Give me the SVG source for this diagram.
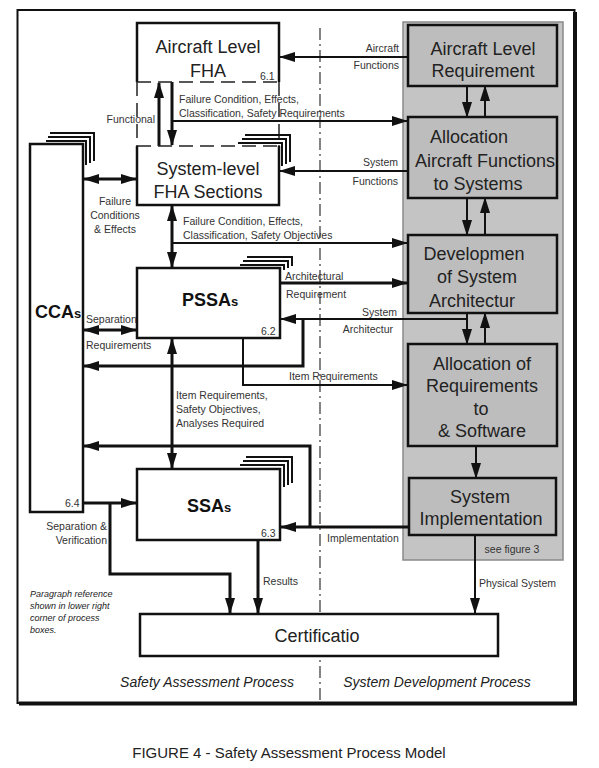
<svg xmlns="http://www.w3.org/2000/svg" width="599" height="768" viewBox="0 0 599 768">
<style>
text{font-family:"Liberation Sans",Arial,sans-serif;fill:#222}
.big{font-size:18px}
.bold{font-size:18px;font-weight:bold;fill:#111}
.lbl{font-size:10.5px;fill:#333}
.num{font-size:10.5px;fill:#333}
.ital{font-style:italic}
.box{fill:#fff;stroke:#111;stroke-width:2.5}
.gbox{fill:#bdbdbd;stroke:#111;stroke-width:2.5}
.stack{fill:none;stroke:#111;stroke-width:2}
.dash{fill:none;stroke:#222;stroke-width:1.5;stroke-dasharray:14 7}
.c{fill:none;stroke:#111}
.w2{stroke-width:2}
.w3{stroke-width:3}
.e{marker-end:url(#ah)}
.s{marker-start:url(#ah)}
</style>
<defs>
<marker id="ah" viewBox="0 0 16 10" refX="15" refY="5" markerWidth="16" markerHeight="10" markerUnits="userSpaceOnUse" orient="auto-start-reverse">
<path d="M0,0 L16,5 L0,10 z" fill="#111"/>
</marker>
</defs>
<rect width="599" height="768" fill="#fff"/>
<!-- frame -->
<g id="frame">
<rect x="17.5" y="10" width="557" height="693" fill="none" stroke="#111" stroke-width="2"/>
<path d="M575,12 V704 M19,703.5 H577" fill="none" stroke="#111" stroke-width="4"/>
</g>
<!-- grey column -->
<rect id="dev-column" x="403" y="22" width="160" height="538" fill="#c4c4c4" stroke="#8a8a8a" stroke-width="1.5"/>
<!-- divider -->
<path id="divider" d="M320,28 V700" fill="none" stroke="#333" stroke-width="1.2" stroke-dasharray="12 4 2 4"/>

<!-- connectors -->
<g id="connectors">
<path class="c w2 e" d="M467,86 V117"/>
<path class="c w2 e" d="M485,117 V86"/>
<path class="c w2 e" d="M467,198 V235"/>
<path class="c w2 e" d="M485,235 V198"/>
<path class="c w2 e" d="M467,313 V344"/>
<path class="c w2 e" d="M485,344 V313"/>
<path class="c w2 e" d="M476,446 V478"/>

<path class="c w2 e" d="M408,57 H280"/>
<path class="c w3 e" d="M159,146 V83"/>
<path class="c w3 e" d="M172,82 V145"/>
<path class="c w2 e" d="M172,121 H407"/>
<path class="c w2 e" d="M408,171 H280"/>
<path class="c w3 e s" d="M84,179 H136"/>
<path class="c w3 e s" d="M172,206 V267"/>
<path class="c w2 e" d="M172,243 H407"/>
<path class="c w3 e" d="M281,283 H407"/>
<path class="c w2 e" d="M467,319 H281"/>
<path class="c w3 e" d="M303,319 V366 H84"/>
<path class="c w3 e s" d="M84,330 H136"/>
<path class="c w2 e" d="M243,338 V385 H407"/>
<path class="c w3 e s" d="M172,339 V468"/>
<path class="c w3 e" d="M409,527 H281"/>
<path class="c w3 e" d="M310,527 V446 H84"/>
<path class="c w3 e" d="M83,503 H136"/>
<path class="c w3 e" d="M110,503 V574 H230 V613"/>
<path class="c w3 e" d="M258,540 V613"/>
<path class="c w2 e" d="M475,535 V613"/>
</g>

<!-- connector labels -->
<g id="labels">
<text class="lbl" x="399" y="52" text-anchor="end">Aircraft</text>
<text class="lbl" x="399" y="69" text-anchor="end">Functions</text>
<text class="lbl" x="155" y="123" text-anchor="end">Functional</text>
<text class="lbl" x="179" y="103">Failure Condition, Effects,</text>
<text class="lbl" x="179" y="117">Classification, Safety Requirements</text>
<text class="lbl" x="398" y="166" text-anchor="end">System</text>
<text class="lbl" x="398" y="185" text-anchor="end">Functions</text>
<text class="lbl" x="115" y="205" text-anchor="middle">Failure</text>
<text class="lbl" x="115" y="219" text-anchor="middle">Conditions</text>
<text class="lbl" x="115" y="233" text-anchor="middle">&amp; Effects</text>
<text class="lbl" x="183" y="225">Failure Condition, Effects,</text>
<text class="lbl" x="183" y="239">Classification, Safety Objectives</text>
<text class="lbl" x="285" y="280">Architectural</text>
<text class="lbl" x="286" y="298">Requirement</text>
<text class="lbl" x="397" y="316" text-anchor="end">System</text>
<text class="lbl" x="393" y="333" text-anchor="end">Architectur</text>
<text class="lbl" x="86" y="323">Separation</text>
<text class="lbl" x="86" y="349">Requirements</text>
<text class="lbl" x="289" y="380">Item Requirements</text>
<text class="lbl" x="176" y="399">Item Requirements,</text>
<text class="lbl" x="176" y="413">Safety Objectives,</text>
<text class="lbl" x="176" y="427">Analyses Required</text>
<text class="lbl" x="327" y="542">Implementation</text>
<text class="lbl" x="107" y="530" text-anchor="end">Separation &amp;</text>
<text class="lbl" x="107" y="544" text-anchor="end">Verification</text>
<text class="lbl" x="263" y="585">Results</text>
<text class="lbl" x="479" y="587">Physical System</text>
<text class="lbl" x="512" y="553" text-anchor="middle">see figure 3</text>
</g>

<!-- left nodes -->
<g id="aircraft-fha">
<rect x="137" y="23" width="142" height="59" fill="#fff" stroke="none"/>
<path d="M137,82 V23 H279 V82" fill="none" stroke="#111" stroke-width="2.5"/>
<path class="dash" d="M137,82 H279 M137,82 V146 M279,82 V146"/>
<text class="big" x="208" y="53" text-anchor="middle">Aircraft Level</text>
<text class="big" x="208" y="77" text-anchor="middle">FHA</text>
<text class="num" x="260" y="80">6.1</text>
</g>
<g id="system-fha">
<path d="M137,146 V205 H279 V146" fill="#fff" stroke="#111" stroke-width="2.5"/>
<path class="dash" d="M137,146 H279"/>
<path class="stack" d="M238,143 H282 V166 M242,139 H286 V164 M245,135 H290 V162"/>
<text class="big" x="208" y="175" text-anchor="middle">System-level</text>
<text class="big" x="208" y="198" text-anchor="middle">FHA Sections</text>
</g>
<g id="pssas">
<rect class="box" x="137" y="268" width="143" height="70"/>
<path class="stack" d="M240,265 H284 V270 M243,261 H288 V268 M247,257 H292 V266"/>
<text class="bold" x="182" y="306">PSSA<tspan font-size="13">s</tspan></text>
<text class="num" x="261" y="335">6.2</text>
</g>
<g id="ssas">
<rect class="box" x="137" y="469" width="143" height="71"/>
<path class="stack" d="M240,465 H284 V487 M243,461 H288 V485 M246,457 H292 V483"/>
<text class="bold" x="187" y="512">SSA<tspan font-size="13">s</tspan></text>
<text class="num" x="261" y="537">6.3</text>
</g>
<g id="ccas">
<rect class="box" x="30" y="144" width="53" height="368"/>
<path class="stack" d="M46,141 H86 V165 M48,137 H90 V163 M50,133 H94 V161"/>
<text class="bold" x="35" y="318">CCA<tspan font-size="13">s</tspan></text>
<text class="num" x="65" y="507">6.4</text>
</g>
<g id="certification">
<rect class="box" x="140" y="614" width="358" height="42"/>
<text class="big" x="317" y="642" text-anchor="middle">Certificatio</text>
</g>

<!-- right nodes -->
<g id="aircraft-level-requirement">
<rect class="gbox" x="408" y="25" width="149" height="61"/>
<text class="big" x="483" y="55" text-anchor="middle">Aircraft Level</text>
<text class="big" x="483" y="77" text-anchor="middle">Requirement</text>
</g>
<g id="allocation-functions">
<rect class="gbox" x="408" y="117" width="149" height="81"/>
<text class="big" x="430" y="143">Allocation</text>
<text class="big" x="485" y="167" text-anchor="middle">Aircraft Functions</text>
<text class="big" x="478" y="190" text-anchor="middle">to Systems</text>
</g>
<g id="development-architecture">
<rect class="gbox" x="408" y="235" width="149" height="78"/>
<text class="big" x="474" y="260" text-anchor="middle">Developmen</text>
<text class="big" x="477" y="283" text-anchor="middle">of System</text>
<text class="big" x="472" y="307" text-anchor="middle">Architectur</text>
</g>
<g id="allocation-requirements">
<rect class="gbox" x="408" y="344" width="149" height="102"/>
<text class="big" x="482" y="370" text-anchor="middle">Allocation of</text>
<text class="big" x="482" y="392" text-anchor="middle">Requirements</text>
<text class="big" x="481" y="415" text-anchor="middle">to</text>
<text class="big" x="482" y="437" text-anchor="middle">&amp; Software</text>
</g>
<g id="system-implementation">
<rect class="gbox" x="409" y="478" width="147" height="57"/>
<text class="big" x="480" y="503" text-anchor="middle">System</text>
<text class="big" x="481" y="525" text-anchor="middle">Implementation</text>
</g>

<!-- notes -->
<g id="notes">
<text class="ital" font-size="9" fill="#333" x="30" y="597">Paragraph reference</text>
<text class="ital" font-size="9" fill="#333" x="30" y="609">shown in lower right</text>
<text class="ital" font-size="9" fill="#333" x="30" y="621">corner of process</text>
<text class="ital" font-size="9" fill="#333" x="30" y="633">boxes.</text>
<text class="ital" font-size="14" fill="#444" x="207" y="687" text-anchor="middle">Safety Assessment Process</text>
<text class="ital" font-size="14" fill="#444" x="437" y="687" text-anchor="middle">System Development Process</text>
<text font-size="15" x="289" y="758" text-anchor="middle">FIGURE 4 - Safety Assessment Process Model</text>
</g>
</svg>
